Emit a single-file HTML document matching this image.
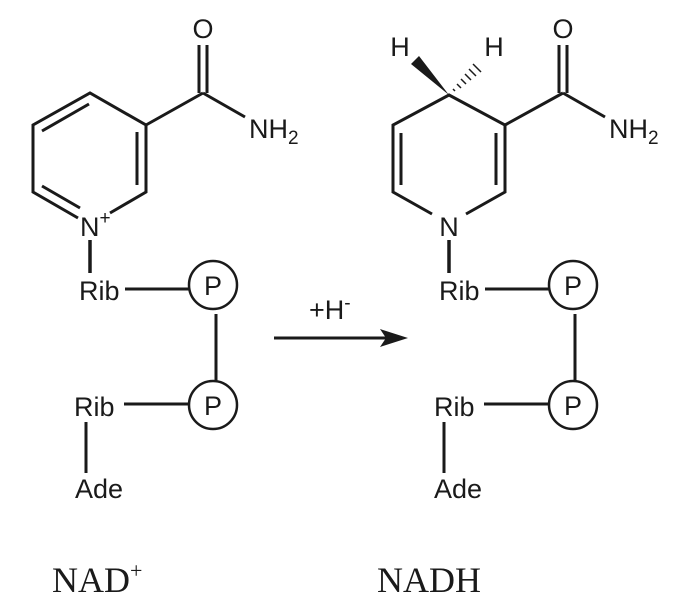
<!DOCTYPE html>
<html><head><meta charset="utf-8"><style>html,body{margin:0;padding:0;background:#fff}svg{display:block}</style></head>
<body>
<svg width="692" height="607" viewBox="0 0 692 607" xmlns="http://www.w3.org/2000/svg">
<g stroke="#1a1a1a" stroke-width="3" fill="none" stroke-linecap="butt">
<polyline points="78,218 33,192 33,125 90,93 146,125 146,192 110,213"/>
<line x1="42" y1="186" x2="80" y2="208"/>
<line x1="42" y1="131" x2="89" y2="104"/>
<line x1="137" y1="132" x2="137" y2="185"/>
<line x1="146" y1="125" x2="203" y2="93"/>
<line x1="203" y1="93" x2="245" y2="117"/>
<line x1="199" y1="45" x2="199" y2="93"/>
<line x1="207" y1="45" x2="207" y2="93"/>
<line x1="90" y1="240" x2="90" y2="273" stroke-width="3.5"/>
<line x1="125" y1="289" x2="189" y2="289"/>
<circle cx="213" cy="285" r="24" stroke-width="2.5"/>
<line x1="216" y1="314" x2="216" y2="381"/>
<circle cx="213" cy="405" r="24" stroke-width="2.5"/>
<line x1="124" y1="404" x2="189" y2="404"/>
<line x1="86" y1="422" x2="86" y2="473"/>
<line x1="274" y1="338" x2="390" y2="338"/>
<polyline points="432,214 393,192 393,125 449,95 505,125 505,192 466,214"/>
<line x1="401" y1="133" x2="401" y2="185"/>
<line x1="496" y1="133" x2="496" y2="185"/>
<line x1="505" y1="125" x2="563" y2="93"/>
<line x1="563" y1="93" x2="605" y2="117"/>
<line x1="559" y1="45" x2="559" y2="93"/>
<line x1="567" y1="45" x2="567" y2="93"/>
<line x1="449" y1="240" x2="449" y2="273" stroke-width="3.5"/>
<line x1="485" y1="289" x2="549" y2="289"/>
<circle cx="573" cy="285" r="24" stroke-width="2.5"/>
<line x1="575" y1="314" x2="575" y2="381"/>
<circle cx="573" cy="405" r="24" stroke-width="2.5"/>
<line x1="484" y1="404" x2="549" y2="404"/>
<line x1="444" y1="422" x2="444" y2="473"/>
<g stroke-width="1.5">
<line x1="453" y1="89" x2="455" y2="91"/>
<line x1="457" y1="84" x2="461" y2="88"/>
<line x1="461" y1="79" x2="466" y2="84"/>
<line x1="465" y1="74" x2="471" y2="80"/>
<line x1="469" y1="69" x2="476" y2="76"/>
<line x1="473" y1="64" x2="481" y2="72"/>
</g>
</g>
<polygon points="408,338 380,329 386,338 380,347" fill="#1a1a1a"/>
<polygon points="449,95 411,64 419,56" fill="#1a1a1a"/>
<g font-family="Liberation Sans, sans-serif" font-size="27" fill="#1a1a1a">
<text x="203" y="38" text-anchor="middle">O</text>
<text x="249" y="138">NH<tspan font-size="19" dy="6">2</tspan></text>
<text x="80" y="236">N<tspan font-size="19" dy="-12">+</tspan></text>
<text x="79" y="300">Rib</text>
<text x="213" y="295" text-anchor="middle">P</text>
<text x="213" y="415" text-anchor="middle">P</text>
<text x="74" y="416">Rib</text>
<text x="75" y="498">Ade</text>
<text x="309" y="319">+H<tspan font-size="19" dy="-10">-</tspan></text>
<text x="400" y="56" text-anchor="middle">H</text>
<text x="494" y="56" text-anchor="middle">H</text>
<text x="563" y="38" text-anchor="middle">O</text>
<text x="609" y="138">NH<tspan font-size="19" dy="6">2</tspan></text>
<text x="449" y="236" text-anchor="middle">N</text>
<text x="439" y="300">Rib</text>
<text x="573" y="295" text-anchor="middle">P</text>
<text x="573" y="415" text-anchor="middle">P</text>
<text x="434" y="416">Rib</text>
<text x="434" y="498">Ade</text>
</g>
<g font-family="Liberation Serif, serif" font-size="36" fill="#1a1a1a">
<text x="52" y="592">NAD<tspan font-size="22" dy="-14">+</tspan></text>
<text x="377" y="592">NADH</text>
</g>
</svg>
</body></html>
